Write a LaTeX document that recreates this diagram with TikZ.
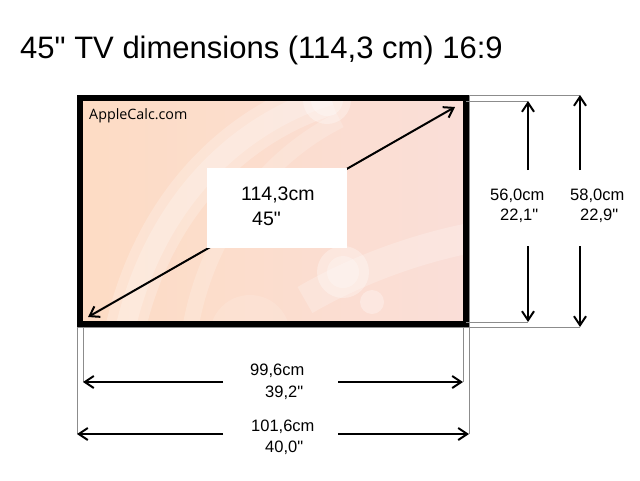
\documentclass[tikz,border=0pt]{standalone}
\usepackage{fontspec}
\setmainfont{Liberation Sans}[Ligatures=TeXOff]
\newfontfamily\acfont{Open Sans}
\usetikzlibrary{arrows.meta}
\definecolor{peach}{HTML}{FDDCC4}
\definecolor{pinkish}{HTML}{FADED8}
\definecolor{extgray}{HTML}{8C8C8C}
\tikzset{
  dimline/.style={line width=2pt, black},
  dimarrow/.style={dimline, -{Straight Barb[length=9pt,width=12pt]}},
  extline/.style={extgray, line width=0.8pt},
  lab/.style={inner sep=0pt, anchor=base west, font=\fontsize{16.5}{19}\selectfont},
  biglab/.style={inner sep=0pt, anchor=base west, font=\fontsize{19.5}{22}\selectfont},
  glow/.style={white, opacity=0.22}
}
\begin{document}
\begin{tikzpicture}[x=1pt,y={(0,-1pt)}]
\useasboundingbox (0,0) rectangle (640,480);
\fill[white] (0,0) rectangle (640,480);

% title
\node[inner sep=0pt, anchor=base west, font=\fontsize{31}{36}\selectfont] (title) at (20,58) {45" TV dimensions (114,3 cm) 16:9};

% screen background
\shade[left color=peach, right color=pinkish] (80,98) rectangle (466,324);
\begin{scope}
  \clip (83,101) rectangle (463,321);
  \draw[glow, line width=40pt] (125,330) .. controls (150,220) and (220,130) .. (330,95);
  \draw[glow, line width=20pt] (125,330) .. controls (150,220) and (220,130) .. (330,95);
  \draw[white, opacity=0.18, line width=16pt] (190,330) .. controls (205,240) and (260,160) .. (340,120);
  \fill[white, opacity=0.3] (327,100) circle (24);
  \fill[white, opacity=0.3] (327,100) circle (16);
  \draw[glow, line width=30pt] (470,238) .. controls (420,248) and (360,268) .. (305,300);
  \fill[white, opacity=0.3] (343,272) circle (26);
  \fill[white, opacity=0.25] (343,272) circle (16);
  \fill[white, opacity=0.3] (372,302) circle (12);
  \fill[white, opacity=0.12] (250,335) circle (40);
\end{scope}

% frame
\draw[extline] (77,95) rectangle (469,327);
\draw[black, line width=6pt] (80,98) rectangle (466,324);
\node[inner sep=0pt, anchor=base west, font=\acfont\fontsize{14.3}{16}\selectfont] (brand) at (89,119) {AppleCalc.com};

% diagonal
\coordinate (dA) at (88,317);
\coordinate (dB) at (455,107);
\draw[dimline, {Straight Barb[length=9pt,width=12pt]}-{Straight Barb[length=9pt,width=12pt]}] (dA) -- (dB);
\fill[white] (207,168) rectangle (347,248);
\node[biglab] (diagcm) at (241,200) {114,3cm};
\node[biglab] (diagin) at (252,225) {45"};

% vertical dimension (inner 56,0)
\coordinate (h1t) at (528,101);
\coordinate (h1b) at (528,322);
\coordinate (h1gt) at (528,170);
\coordinate (h1gb) at (528,246);
\draw[extline] (466,101) -- (h1t);
\draw[extline] (466,322) -- (h1b);
\draw[dimarrow] (h1gt) -- (h1t);
\draw[dimarrow] (h1gb) -- (h1b);
\node[lab] (h1cm) at (490,200) {56,0cm};
\node[lab] (h1in) at (500,220) {22,1"};

% vertical dimension (outer 58,0)
\coordinate (h2t) at (580,95);
\coordinate (h2b) at (580,327);
\coordinate (h2gt) at (580,170);
\coordinate (h2gb) at (580,246);
\draw[extline] (469,95) -- (h2t);
\draw[extline] (469,327) -- (h2b);
\draw[dimarrow] (h2gt) -- (h2t);
\draw[dimarrow] (h2gb) -- (h2b);
\node[lab] (h2cm) at (570,200) {58,0cm};
\node[lab] (h2in) at (580,220) {22,9"};

% horizontal dimension (inner 99,6)
\coordinate (w1l) at (83,382);
\coordinate (w1r) at (463,382);
\coordinate (w1gl) at (223,382);
\coordinate (w1gr) at (338,382);
\draw[extline] (83,327) -- (w1l);
\draw[extline] (463,327) -- (w1r);
\draw[dimarrow] (w1gl) -- (w1l);
\draw[dimarrow] (w1gr) -- (w1r);
\node[lab] (w1cm) at (250,375) {99,6cm};
\node[lab] (w1in) at (265,397) {39,2"};

% horizontal dimension (outer 101,6)
\coordinate (w2l) at (77,434);
\coordinate (w2r) at (469,434);
\coordinate (w2gl) at (223,434);
\coordinate (w2gr) at (338,434);
\draw[extline] (77,327) -- (w2l);
\draw[extline] (469,327) -- (w2r);
\draw[dimarrow] (w2gl) -- (w2l);
\draw[dimarrow] (w2gr) -- (w2r);
\node[lab] (w2cm) at (251,431) {101,6cm};
\node[lab] (w2in) at (265,452) {40,0"};
\end{tikzpicture}
\end{document}
